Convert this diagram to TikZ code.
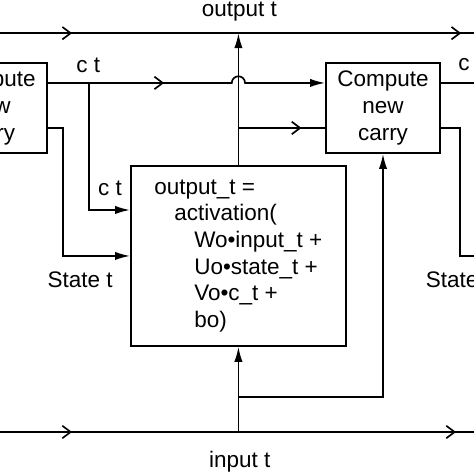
\documentclass[tikz,border=0pt]{standalone}
\usepackage{fontspec}
\setmainfont{Liberation Sans}
\usetikzlibrary{arrows.meta,decorations.markings}
\tikzset{>={Latex[length=9pt,width=5pt]}}
\tikzset{
    carrybox/.style={draw, minimum width=2.41cm, minimum height=1.9cm, align=center, inner sep=0pt},
    mainbox/.style={draw, minimum width=4.54cm, minimum height=3.8cm, align=left, inner sep=0pt},
    chevron/.style={postaction={decorate, decoration={markings,
        mark=at position #1 with {\arrow{Straight Barb[length=5pt,width=7.5pt]}}}}}
}

\begin{document}
\begin{tikzpicture}[line width=1pt, font=\fontsize{13.5}{16}\selectfont]

    \useasboundingbox (0,0) rectangle (10,10);

    \node[carrybox] (lcarry) at (-0.21,7.72) {Compute\\new\\carry};
    \node[carrybox] (rcarry) at (8.08,7.72) {Compute\\new\\carry};
    \node[mainbox] (out) at (5.03,4.60) {output\_t =\\
        \hspace*{0.42cm}activation(\\
        \hspace*{0.84cm}Wo•input\_t +\\
        \hspace*{0.84cm}Uo•state\_t +\\
        \hspace*{0.84cm}Vo•c\_t +\\
        \hspace*{0.84cm}bo)};

    \coordinate (outL) at (0,9.30);
    \coordinate (outR) at (10,9.30);
    \coordinate (inL) at (0,0.886);
    \coordinate (inR) at (10,0.886);

    \draw[chevron=1.52cm, chevron=9.73cm] (outL) -- (outR);
    \draw[chevron=1.52cm, chevron=9.62cm] (inL) -- (inR);
    \node (outlabel) at (5.05,9.75) {output t};
    \node (inlabel) at (5.06,0.25) {input t};

    \coordinate (cL) at ([yshift=0.53cm]lcarry.east);
    \coordinate (sL) at ([yshift=-0.42cm]lcarry.east);
    \coordinate (cR) at ([yshift=0.53cm]rcarry.east);
    \coordinate (sR) at ([yshift=-0.42cm]rcarry.east);
    \coordinate (cRin) at ([yshift=0.53cm]rcarry.west);
    \coordinate (sRin) at ([yshift=-0.42cm]rcarry.west);
    \coordinate (hop) at (out.north |- cL);
    \coordinate (cB) at ([xshift=0.87cm]cL);
    \coordinate (sRend) at (10,4.60);
    \coordinate (inB) at (5.03,1.62);

    \draw[->] (out.north) -- (out.north |- outL);
    \draw[chevron=1.33cm] (out.north |- sRin) -- (sRin);

    \draw[chevron=2.45cm, ->] (cL) -- ([xshift=-0.14cm]hop)
        arc[start angle=180, end angle=0, radius=0.14cm] -- (cRin);
    \node (clabel) at (1.86,8.63) {c t};

    \draw[->] (cB) |- ([yshift=0.97cm]out.west);
    \node (cinlabel) at (2.32,6.03) {c t};

    \draw[->] (sL) -- ++(0.32,0) |- (out.west);
    \node (slabel) at (1.69,4.09) {State t};

    \draw (cR) -- (cR -| outR);
    \node (crlabel) at (9.92,8.67) {c t};
    \draw (sR) -- ++(0.40,0) |- (sRend);
    \node (srlabel) at (9.67,4.09) {State t};

    \draw[->] (out.south |- inL) -- (out.south);
    \draw[->] (inB) -| (rcarry.south);

\end{tikzpicture}
\end{document}
